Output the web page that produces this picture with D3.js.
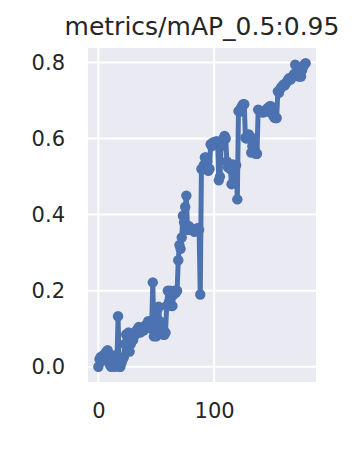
<!DOCTYPE html>
<html>
<head>
<meta charset="utf-8">
<script src="https://cdn.jsdelivr.net/npm/d3@7"></script>
<style>
  body { margin: 0; background: #fff; }
  svg { display: block; font-family: "DejaVu Sans", sans-serif; }
</style>
</head>
<body>
<svg id="chart" width="360" height="450"></svg>
<script>
const title = "metrics/mAP_0.5:0.95";
const yTicks = [0.0, 0.2, 0.4, 0.6, 0.8];
const xTicks = [0, 100];
// mAP per epoch
const mapValues = [
    0.0, 0.02, 0.026, 0.015, 0.03, 0.02, 0.035, 0.04, 0.044, 0.03,
    0.005, 0.0, 0.02, 0.03, 0.0, 0.01, 0.005, 0.133, 0.0, 0.0,
    0.01, 0.02, 0.025, 0.06, 0.085, 0.08, 0.09, 0.04, 0.06, 0.085,
    0.07, 0.09, 0.085, 0.095, 0.1, 0.105, 0.09, 0.1, 0.1, 0.095,
    0.1, 0.11, 0.105, 0.12, 0.115, 0.12, 0.1, 0.222, 0.08, 0.085,
    0.08, 0.15, 0.158, 0.12, 0.09, 0.1, 0.085, 0.084, 0.09, 0.16,
    0.2, 0.17, 0.2, 0.16, 0.16, 0.19, 0.2, 0.195, 0.2, 0.28,
    0.32, 0.31, 0.34, 0.397, 0.38, 0.42, 0.45, 0.36, 0.37, 0.36,
    0.36, 0.363, 0.36, 0.355, 0.36, 0.36, 0.365, 0.36, 0.19, 0.52,
    0.52, 0.53, 0.55, 0.55, 0.54, 0.515, 0.52, 0.585, 0.58, 0.59,
    0.59, 0.585, 0.593, 0.59, 0.49, 0.5, 0.58, 0.59, 0.6, 0.607,
    0.6, 0.54, 0.524, 0.53, 0.52, 0.48, 0.532, 0.53, 0.52, 0.53,
    0.44, 0.672, 0.67, 0.68, 0.685, 0.69, 0.69, 0.602, 0.6, 0.61,
    0.611, 0.6, 0.563, 0.58, 0.6, 0.57, 0.56, 0.56, 0.676, 0.674,
    0.67, 0.672, 0.668, 0.67, 0.672, 0.675, 0.68, 0.67, 0.685, 0.685,
    0.68, 0.66, 0.655, 0.654, 0.654, 0.724, 0.72, 0.73, 0.735, 0.738,
    0.742, 0.74, 0.745, 0.75, 0.755, 0.759, 0.755, 0.76, 0.763, 0.77,
    0.794, 0.77, 0.765, 0.763, 0.765, 0.763, 0.78, 0.79, 0.795, 0.798
];

const data = mapValues.map((v, i) => ({ epoch: i, value: v }));

const margin = { top: 48, right: 44, bottom: 68, left: 88 };
const svg = d3.select("#chart");
const width = +svg.attr("width") - margin.left - margin.right;
const height = +svg.attr("height") - margin.top - margin.bottom;

// matplotlib-style 5% padding
const xExt = d3.extent(data, d => d.epoch);
const yExt = d3.extent(data, d => d.value);
const xPad = (xExt[1] - xExt[0]) * 0.05;
const yPad = (yExt[1] - yExt[0]) * 0.05;

const x = d3.scaleLinear().domain([xExt[0] - xPad, xExt[1] + xPad]).range([0, width]);
const y = d3.scaleLinear().domain([yExt[0] - yPad, yExt[1] + yPad]).range([height, 0]);

const g = svg.append("g").attr("transform", `translate(${margin.left},${margin.top})`);

g.append("rect")
    .attr("width", width)
    .attr("height", height)
    .attr("fill", "#EAEAF2");

g.append("g")
    .selectAll("line")
    .data(yTicks)
    .join("line")
    .attr("x1", 0).attr("x2", width)
    .attr("y1", d => y(d)).attr("y2", d => y(d))
    .attr("stroke", "#fff").attr("stroke-width", 2);

g.append("g")
    .selectAll("line")
    .data(xTicks)
    .join("line")
    .attr("y1", 0).attr("y2", height)
    .attr("x1", d => x(d)).attr("x2", d => x(d))
    .attr("stroke", "#fff").attr("stroke-width", 2);

const yAxis = g.append("g")
    .call(d3.axisLeft(y).tickValues(yTicks).tickFormat(d3.format(".1f")).tickSize(0).tickPadding(23));
const xAxis = g.append("g")
    .attr("transform", `translate(0,${height})`)
    .call(d3.axisBottom(x).tickValues(xTicks).tickSize(0).tickPadding(21));

[yAxis, xAxis].forEach(a => {
    a.select(".domain").remove();
    a.selectAll("text")
        .attr("fill", "#262626")
        .style("font-family", "DejaVu Sans, sans-serif")
        .style("font-size", "21px");
});

const line = d3.line().x(d => x(d.epoch)).y(d => y(d.value));

g.append("path")
    .datum(data)
    .attr("d", line)
    .attr("fill", "none")
    .attr("stroke", "#4C72B0")
    .attr("stroke-width", 5)
    .attr("stroke-linejoin", "round");

g.append("g")
    .selectAll("circle")
    .data(data)
    .join("circle")
    .attr("cx", d => x(d.epoch))
    .attr("cy", d => y(d.value))
    .attr("r", 5.2)
    .attr("fill", "#4C72B0");

svg.append("text")
    .attr("x", margin.left + width / 2)
    .attr("y", 35)
    .attr("text-anchor", "middle")
    .attr("fill", "#262626")
    .style("font-size", "25px")
    .text(title);
</script>
</body>
</html>
